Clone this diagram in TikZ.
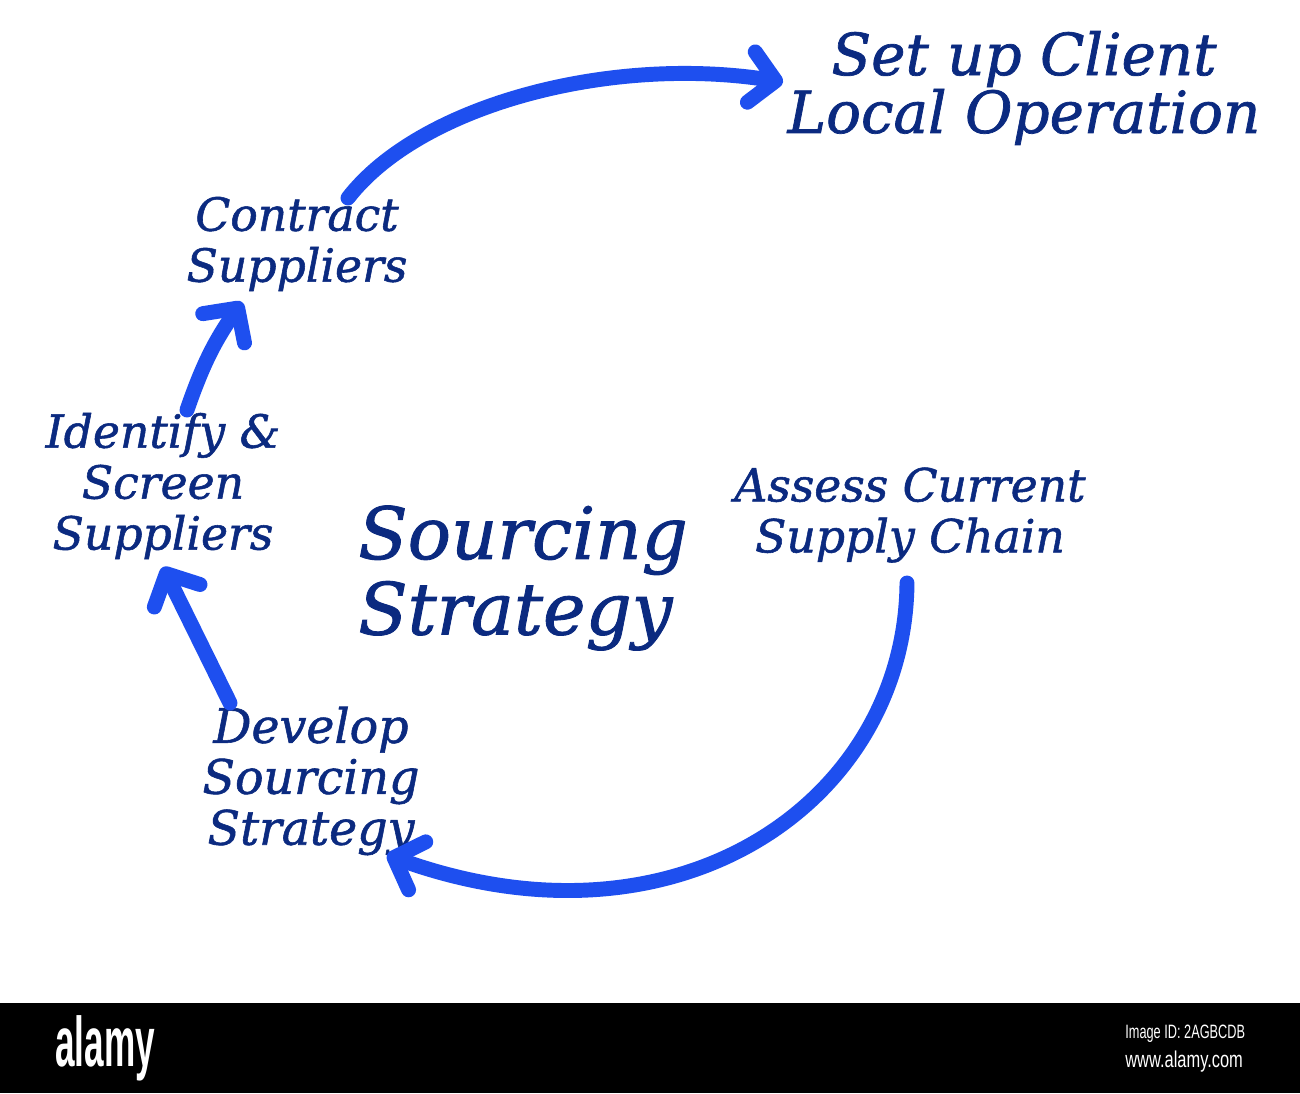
\documentclass[tikz,border=0pt]{standalone}
\usepackage{fontspec}
\usepackage{graphicx}
\setmainfont{DejaVu Serif}
\newfontfamily\hand{DejaVu Serif}[FakeBold=1.2]
\newfontfamily\wmfont{Liberation Sans}
\usetikzlibrary{arrows.meta}
\definecolor{txtblue}{HTML}{0B2A80}
\definecolor{arrblue}{HTML}{1E4FEF}
\tikzset{
  lbl/.style={text=txtblue, align=center, inner sep=0pt, font=\hand\itshape\fontsize{26}{29}\selectfont},
  bigl/.style={text=txtblue, align=left, inner sep=0pt, font=\hand\itshape\fontsize{41}{43}\selectfont},
  flow/.style={draw=arrblue, line width=8.5pt, line cap=round, line join=round,
    -{Straight Barb[length=14pt,width=29pt,line cap=round,line join=round]}},
  wm/.style={text=white, inner sep=0pt}
}
\begin{document}
\begin{tikzpicture}[x=0.02cm,y=-0.02cm]
\useasboundingbox (0,0) rectangle (1300,1093);
\fill[white] (0,0) rectangle (1300,1003);
\fill[black] (0,1003) rectangle (1300,1093);

\node[lbl, font=\hand\itshape\fontsize{33}{28}\selectfont] (setup) at (1024,88) {Set up Client\\Local Operation};
\node[lbl] (contract) at (297,244) {Contract\\Suppliers};
\node[lbl] (identify) at (163,486) {Identify \&\\Screen\\Suppliers};
\node[bigl, anchor=west] (title) at (358,578) {Sourcing\\Strategy};
\node[lbl] (assess) at (910,515) {Assess Current\\Supply Chain};
\node[lbl, font=\hand\itshape\fontsize{27}{29}\selectfont] (develop) at (311,781) {Develop\\Sourcing\\Strategy};

\coordinate (a1s) at (348,198);
\coordinate (a1e) at (783,82);
\coordinate (a2s) at (187,410);
\coordinate (a2e) at (242,302);
\coordinate (a3s) at (230,703);
\coordinate (a3e) at (163,567);
\coordinate (a4s) at (907,583);
\coordinate (a4e) at (387,855);

\draw[flow] (a1s) .. controls (420,105) and (610,55) .. (a1e);
\draw[flow] (a2s) to[bend left=8] (a2e);
\draw[flow] (a3s) -- (a3e);
\draw[flow] (a4s) .. controls (905,800) and (680,960) .. (a4e);

\node[wm, anchor=west] (alamy) at (55,1048) {\scalebox{0.5}[1]{\wmfont\bfseries\fontsize{40}{40}\selectfont alamy}};
\node[wm, anchor=west] (imgid) at (1125,1034) {\scalebox{0.66}[1]{\wmfont\fontsize{11}{11}\selectfont Image ID: 2AGBCDB}};
\node[wm, anchor=west] (www) at (1125,1062) {\scalebox{0.72}[1]{\wmfont\fontsize{13}{13}\selectfont www.alamy.com}};
\end{tikzpicture}
\end{document}
